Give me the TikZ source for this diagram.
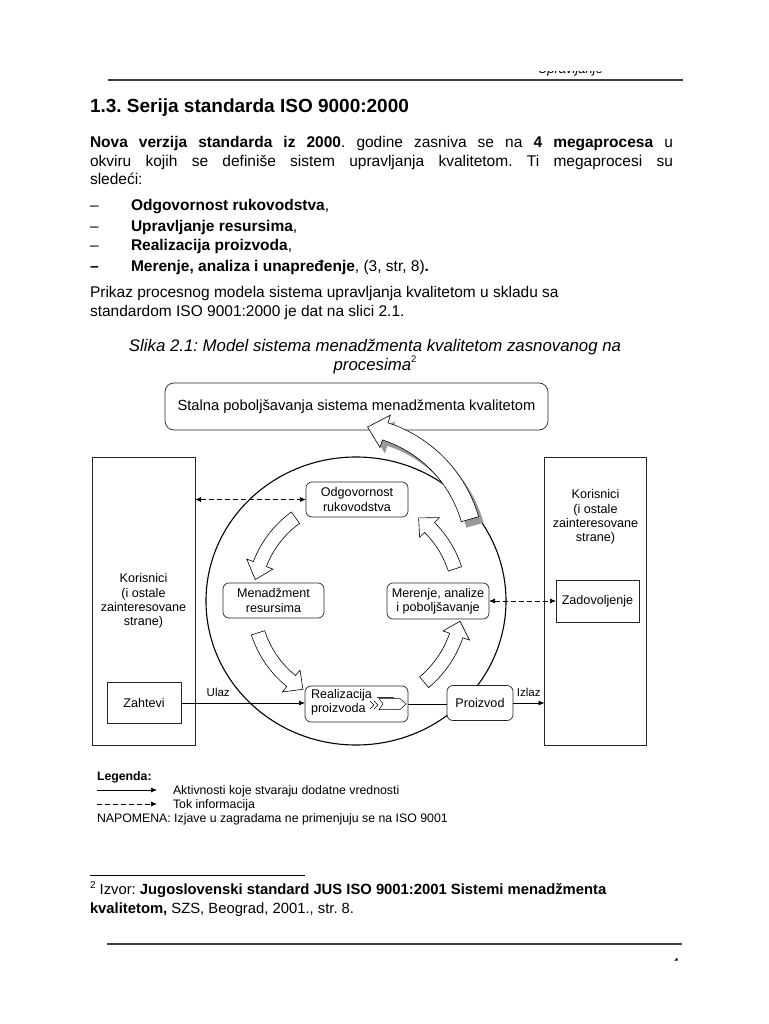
\documentclass[tikz,border=0pt]{standalone}
\usepackage{fontspec}
\setmainfont{Liberation Sans}
\usetikzlibrary{arrows.meta,calc}
\newcommand{\fsz}[2]{\fontsize{#1}{#2}\selectfont}
% curved block arrow: cx, cy, r, tail angle, head-base angle, tip angle, half band, half head, style
\newcommand{\barc}[9]{%
 \path[#9] plot[domain=#4:#5,samples=30] ({#1+(#3+#7)*cos(\x)},{#2+(#3+#7)*sin(\x)})
   -- ({#1+(#3+#8)*cos(#5)},{#2+(#3+#8)*sin(#5)})
   -- ({#1+#3*cos(#6)},{#2+#3*sin(#6)})
   -- ({#1+(#3-#8)*cos(#5)},{#2+(#3-#8)*sin(#5)})
   -- plot[domain=#5:#4,samples=30] ({#1+(#3-#7)*cos(\x)},{#2+(#3-#7)*sin(\x)})
   -- cycle;}
\frenchspacing
\begin{document}
\begin{tikzpicture}[x=1pt,y=-1pt,
  every node/.style={inner sep=0pt, outer sep=0pt},
  body/.style={anchor=base west, font=\fsz{15.5}{19}},
  foot/.style={anchor=base west, font=\fsz{14.8}{18}},
  leg/.style={anchor=base west, font=\fsz{12.3}{14}},
  lbl/.style={font=\fsz{12.6}{14.2}, align=center},
  sq/.style={draw=black!85, line width=0.7pt, fill=white},
  rnd/.style={draw=black!85, line width=0.7pt, fill=white, rounded corners=6pt},
  barrow/.style={fill=white, draw=black, line width=0.6pt},
  shade/.style={fill=black!40, draw=none},
  flow/.style={line width=0.7pt, -{Latex[length=6pt,width=5pt]}},
  info/.style={line width=0.7pt, dashed, dash pattern=on 5pt off 3pt, {Latex[length=6pt,width=5pt]}-{Latex[length=6pt,width=5pt]}},
  rule/.style={line width=1.3pt, black!75}
]
\useasboundingbox[fill=white] (0,0) rectangle (768,1024);

% ---------- header ----------
\begin{scope}
\clip (520,71.5) rectangle (650,76);
\node[anchor=base west, font=\fsz{13}{15}\itshape] (hdr) at (538,74) {Upravljanje};
\end{scope}
\coordinate (hrl) at (108,80);
\coordinate (hrr) at (683,80);
\draw[rule] (hrl) -- (hrr);

% ---------- text ----------
\node[anchor=base west, font=\fsz{19}{22}\bfseries] (title) at (90,113) {1.3. Serija standarda ISO 9000:2000};
\node[body] (p1) at (90,148) {\makebox[583pt][s]{\textbf{Nova verzija standarda iz 2000}. godine zasniva se na \textbf{4 megaprocesa} u}};
\node[body] (p2) at (90,167) {\makebox[583pt][s]{okviru kojih se definiše sistem upravljanja kvalitetom. Ti megaprocesi su}};
\node[body] (p3) at (90,185) {sledeći:};
\node[body] (d1) at (90,211) {–};
\node[body] (d2) at (90,232) {–};
\node[body] (d3) at (90,251) {–};
\node[body] (d4) at (90,271) {\textbf{–}};
\node[body] (b1) at (131,211) {\textbf{Odgovornost rukovodstva},};
\node[body] (b2) at (131,232) {\textbf{Upravljanje resursima},};
\node[body] (b3) at (131,251) {\textbf{Realizacija proizvoda},};
\node[body] (b4) at (131,271) {\textbf{Merenje, analiza i unapređenje}, (3, str, 8)\textbf{.}};
\node[body] (q1) at (90,297) {Prikaz procesnog modela sistema upravljanja kvalitetom u skladu sa};
\node[body] (q2) at (90,316) {standardom ISO 9001:2000 je dat na slici 2.1.};
\node[anchor=base, font=\fsz{16.8}{19}\itshape] (cap1) at (375,351) {Slika 2.1: Model sistema menadžmenta kvalitetom zasnovanog na};
\node[anchor=base, font=\fsz{16.8}{19}\itshape] (cap2) at (375,370) {procesima\raisebox{0.45em}{\fsz{9.5}{9}\upshape 2}};

% ---------- diagram ----------
\node[rnd, rounded corners=9pt, minimum width=383pt, minimum height=47pt, font=\fsz{14.7}{17}] (top) at (356.5,406.5) {Stalna poboljšavanja sistema menadžmenta kvalitetom};

\node[sq, minimum width=103pt, minimum height=288pt, lbl] (lbox) at (143.5,601) {Korisnici\\(i ostale\\zainteresovane\\strane)};
\node[sq, minimum width=102pt, minimum height=288pt] (rbox) at (595.5,601) {};
\node[lbl] (rtxt) at (595.5,517) {Korisnici\\(i ostale\\zainteresovane\\strane)};

\draw[line width=1.1pt] (356,601) ellipse [x radius=150, y radius=144];

% big improvement arrow with shadow
\barc{350}{561}{130}{-16}{-72}{-80}{9}{17}{shade}
\barc{345}{555}{130}{-16}{-72}{-80}{9}{17}{barrow}

% cycle arrows
\barc{356}{601}{103}{234}{201}{192}{7}{14}{barrow}
\barc{356}{601}{103}{162}{129}{121}{7}{14}{barrow}
\barc{356}{601}{106}{50}{19}{11}{7}{14}{barrow}
\barc{356}{601}{104}{-18}{-45}{-53}{7}{14}{barrow}

\node[sq, minimum width=74pt, minimum height=41pt, lbl] (zah) at (144,703) {Zahtevi};
\node[sq, minimum width=83pt, minimum height=42pt, lbl] (zad) at (597.5,601) {Zadovoljenje};
\node[rnd, minimum width=102pt, minimum height=35pt, lbl] (odg) at (357,499.5) {Odgovornost\\rukovodstva};
\node[rnd, minimum width=101pt, minimum height=35pt, lbl] (men) at (273.5,600.5) {Menadžment\\resursima};
\node[rnd, minimum width=102pt, minimum height=36pt, lbl] (mer) at (438,601) {Merenje, analize\\i poboljšavanje};
\node[rnd, minimum width=103pt, minimum height=36pt] (real) at (356.5,704) {};
\node[lbl, align=left, anchor=north west] (realt) at (311,689) {Realizacija\\proizvoda};
\node[rnd, minimum width=66pt, minimum height=35pt, lbl] (proi) at (480,703) {Proizvod};

% icon in Realizacija
\draw[line width=1pt, black!80] (377,697) -- (394,697);
\draw[fill=white, line width=0.5pt] (379,698.5) -- (400,698.5) -- (406,704) -- (400,709.5) -- (379,709.5) -- (383,704) -- cycle;
\draw[line width=0.5pt] (370,701) -- (374,705) -- (370,709);
\draw[line width=0.5pt] (374,701) -- (378,705) -- (374,709);

% connectors
\draw[flow] (zah.east) -- (zah.east -| real.west) node[pos=0.3, above=6pt, font=\fsz{11.5}{13}] (ulaz) {Ulaz};
\draw[line width=0.7pt] (real.east) -- (real.east -| proi.west);
\draw[flow] (proi.east) -- (proi.east -| rbox.west) node[midway, above=6pt, font=\fsz{11.5}{13}] (izlaz) {Izlaz};
\draw[info] (lbox.east |- odg.west) -- (odg.west);
\draw[info] (mer.east) -- (mer.east -| zad.west);

% ---------- legend ----------
\node[leg, font=\fsz{12.3}{14}\bfseries] (legt) at (97,780) {Legenda:};
\coordinate (l1a) at (97,790);
\coordinate (l1b) at (157,790);
\coordinate (l2a) at (97,804);
\coordinate (l2b) at (157,804);
\draw[flow] (l1a) -- (l1b);
\draw[line width=0.7pt, dashed, dash pattern=on 5pt off 3pt, -{Latex[length=6pt,width=5pt]}] (l2a) -- (l2b);
\node[leg] (leg1) at (173,794) {Aktivnosti koje stvaraju dodatne vrednosti};
\node[leg] (leg2) at (173,808) {Tok informacija};
\node[leg] (leg3) at (97,822) {NAPOMENA: Izjave u zagradama ne primenjuju se na ISO 9001};

% ---------- footnote ----------
\coordinate (fsl) at (90,875);
\coordinate (fsr) at (305,875);
\draw[line width=0.8pt] (fsl) -- (fsr);
\node[foot] (f1) at (90,894) {\raisebox{0.4em}{\fsz{10}{9}2} Izvor: \textbf{Jugoslovenski standard JUS ISO 9001:2001 Sistemi menadžmenta}};
\node[foot] (f2) at (90,913) {\textbf{kvalitetom,} SZS, Beograd, 2001., str. 8.};
\coordinate (brl) at (107,944);
\coordinate (brr) at (682,944);
\draw[rule] (brl) -- (brr);
\begin{scope}
\clip (660,954) rectangle (690,960);
\node[anchor=base west, font=\fsz{13}{15}] (pg) at (672,967) {4};
\end{scope}
\end{tikzpicture}
\end{document}
